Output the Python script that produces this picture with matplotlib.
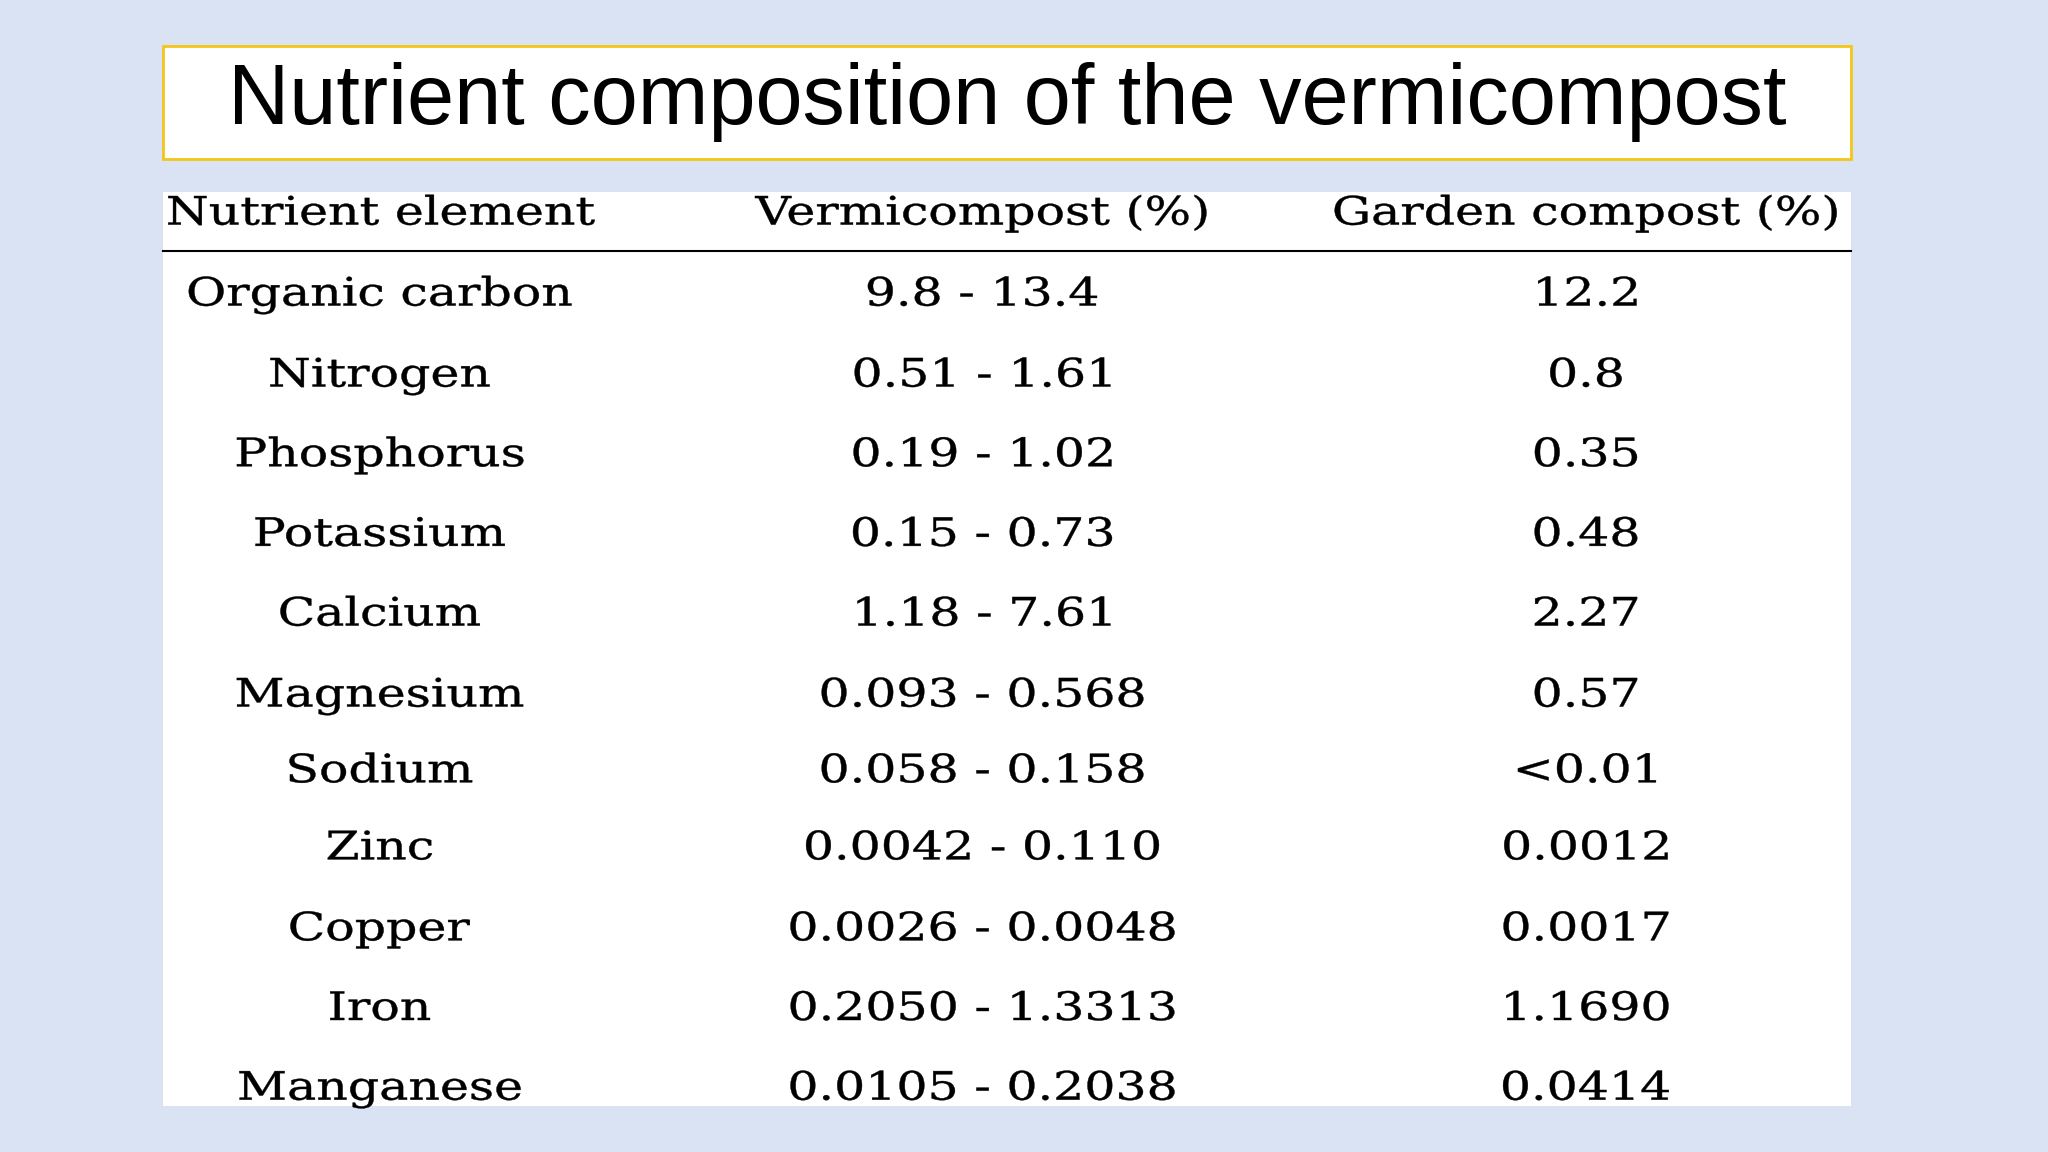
import matplotlib.pyplot as plt
from matplotlib.patches import Rectangle, PathPatch
from matplotlib.textpath import TextPath
from matplotlib.font_manager import FontProperties
from matplotlib.transforms import Affine2D

title = "Nutrient composition of the vermicompost"
headers = ["Nutrient element", "Vermicompost (%)", "Garden compost (%)"]
elements = ["Organic carbon", "Nitrogen", "Phosphorus", "Potassium", "Calcium",
            "Magnesium", "Sodium", "Zinc", "Copper", "Iron", "Manganese"]
vermi = ["9.8 - 13.4", "0.51 - 1.61", "0.19 - 1.02", "0.15 - 0.73", "1.18 - 7.61",
         "0.093 - 0.568", "0.058 - 0.158", "0.0042 - 0.110", "0.0026 - 0.0048",
         "0.2050 - 1.3313", "0.0105 - 0.2038"]
garden = ["12.2", "0.8", "0.35", "0.48", "2.27", "0.57", "<0.01", "0.0012",
          "0.0017", "1.1690", "0.0414"]
row_y = [223, 285, 346, 407, 468, 530, 588, 647, 709, 770, 831]

W, H = 1568, 882
fig = plt.figure(figsize=(20.48, 11.52), dpi=100)
fig.patch.set_facecolor("#dae3f3")
ax = fig.add_axes([0, 0, 1, 1])
ax.set_xlim(0, W)
ax.set_ylim(H, 0)
ax.axis("off")

ax.add_patch(Rectangle((125, 35), 1292, 87, facecolor="white", edgecolor="#f5c518", lw=2))
ax.text(771, 78, title, ha="center", va="center", fontsize=61,
        family="Liberation Sans", color="black")

ax.add_patch(Rectangle((125, 147), 1292, 700, facecolor="white", edgecolor="none"))
ax.plot([125, 1417], [192, 192], color="black", lw=1.5)

FP = FontProperties(family="DejaVu Serif")
SIZE = 30
SX = 1.25


def stretched(s, x, y, ha="center"):
    tp = TextPath((0, 0), s, size=SIZE, prop=FP)
    ext = tp.get_extents()
    w = ext.x1 * SX
    x0 = x - w / 2 if ha == "center" else x
    base = y + 0.729 * SIZE / 2
    tr = Affine2D().scale(SX, -1).translate(x0, base)
    ax.add_patch(PathPatch(tr.transform_path(tp), facecolor="black",
                           edgecolor="black", lw=0.3))


stretched(headers[0], 127, 161, ha="left")
stretched(headers[1], 751, 161)
stretched(headers[2], 1213, 161)
for e, v, g, y in zip(elements, vermi, garden, row_y):
    stretched(e, 290, y)
    stretched(v, 751, y)
    stretched(g, 1213, y)

fig.savefig("out.png", dpi=100, facecolor=fig.get_facecolor())
